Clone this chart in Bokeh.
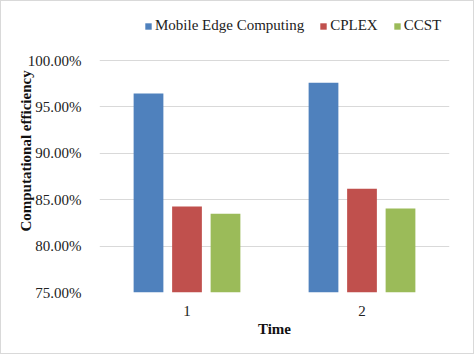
from bokeh.plotting import figure
from bokeh.models import FactorRange, NumeralTickFormatter, Legend, LegendItem, FixedTicker, ColumnDataSource
from bokeh.transform import dodge
from bokeh.embed import file_html
from bokeh.resources import INLINE

times = ["1", "2"]
series = ["Mobile Edge Computing", "CPLEX", "CCST"]
mec = [0.9644, 0.9760]
cplex = [0.8427, 0.8617]
ccst = [0.8348, 0.8405]
colors = ["#4F81BD", "#C0504D", "#9BBB59"]
y_ticks = [0.75, 0.80, 0.85, 0.90, 0.95, 1.00]

src = ColumnDataSource(dict(time=times, mec=mec, cplex=cplex, ccst=ccst))

p = figure(width=474, height=354, x_range=FactorRange(*times, range_padding=0),
           y_range=(0.75, 1.055), output_backend="svg", toolbar_location=None,
           min_border_left=98, min_border_right=26, min_border_top=8, min_border_bottom=63)
p.styles = {"border": "1px solid #d9d9d9", "box-sizing": "border-box"}

font = "'Liberation Serif', 'Times New Roman', serif"
offs = [-0.22, 0.0, 0.22]
rs = []
for key, off, c in zip(["mec", "cplex", "ccst"], offs, colors):
    r = p.vbar(x=dodge("time", off, range=p.x_range), top=key, bottom=0.75, width=0.17,
               source=src, fill_color=c, line_color=None)
    rs.append(r)

p.outline_line_color = None
p.xgrid.grid_line_color = None
p.ygrid.grid_line_color = "#d9d9d9"
p.ygrid.grid_line_width = 1
p.yaxis.ticker = FixedTicker(ticks=y_ticks)
p.yaxis.formatter = NumeralTickFormatter(format="0.00%")
for ax in (p.xaxis[0], p.yaxis[0]):
    ax.axis_line_color = None
    ax.major_tick_line_color = None
    ax.minor_tick_line_color = None
    ax.major_label_text_font = font
    ax.major_label_text_font_size = "15px"
    ax.major_label_text_color = "#222222"
    ax.axis_label_text_font = font
    ax.axis_label_text_font_size = "15px"
    ax.axis_label_text_font_style = "bold"
    ax.axis_label_text_color = "#111111"
p.xaxis.axis_label = "Time"
p.yaxis.axis_label = "Computational efficiency"
p.yaxis.major_label_standoff = 12
p.xaxis.major_label_standoff = 7
p.xaxis.axis_label_standoff = 2
p.yaxis.axis_label_standoff = -9

legend = Legend(items=[LegendItem(label=s, renderers=[r]) for s, r in zip(series, rs)],
                orientation="horizontal", location=(45, 258), padding=0, margin=0,
                spacing=15, glyph_width=8, glyph_height=8, label_standoff=3,
                label_text_font=font, label_text_font_size="15px", label_text_color="#222222",
                border_line_color=None, background_fill_alpha=0)
p.add_layout(legend, "center")

open("out.html", "w").write(file_html(p, INLINE))
